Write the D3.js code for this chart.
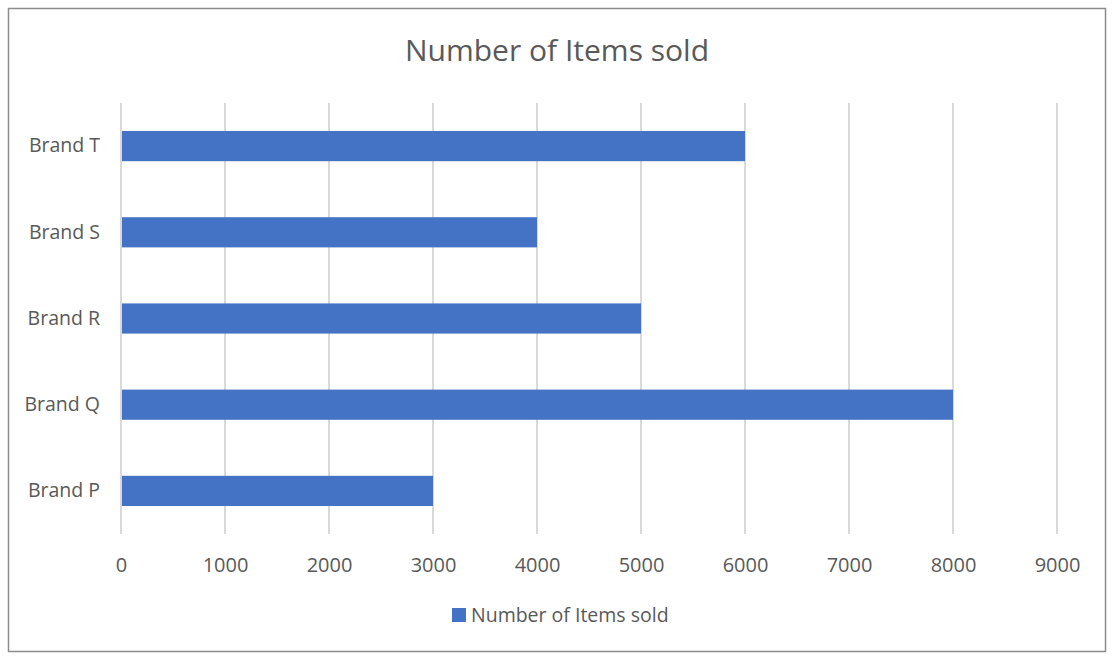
<!DOCTYPE html>
<html>
<head>
<meta charset="utf-8">
<script src="https://cdn.jsdelivr.net/npm/d3@7"></script>
<style>
  body { margin: 0; background: #fff; }
  text { font-family: "Open Sans", sans-serif; fill: #595959; }
</style>
</head>
<body>
<div id="chart"></div>
<script>
const brands = ["Brand P", "Brand Q", "Brand R", "Brand S", "Brand T"];
const itemsSold = [3000, 8000, 5000, 4000, 6000];
const xTicks = [0, 1000, 2000, 3000, 4000, 5000, 6000, 7000, 8000, 9000];
const seriesName = "Number of Items sold";

(function(){
    const fullWidth = 1118;
    const fullHeight = 666;
    const margin = { top: 103, left: 121, bottom: 132, right: 61 };
    const width = fullWidth - margin.left - margin.right;
    const height = fullHeight - margin.top - margin.bottom;

    const svg = d3.select("#chart")
        .append('svg')
            .attr('width', fullWidth)
            .attr('height', fullHeight);

    // outer frame
    svg.append('rect')
        .attr('x', 8.5).attr('y', 8.5)
        .attr('width', 1097).attr('height', 643)
        .style('fill', '#fff')
        .style('stroke', '#8c8c8c')
        .style('stroke-width', 1.5);

    svg.append('text')
        .attr('x', 557)
        .attr('y', 61)
        .attr('text-anchor', 'middle')
        .style('font-size', '30px')
        .text(seriesName);

    const g = svg.append('g')
        .attr('transform', `translate(${margin.left}, ${margin.top})`);

    const xScale = d3.scaleLinear()
        .domain([0, 9000])
        .range([0, width]);

    const yScale = d3.scaleBand()
        .domain(brands.slice().reverse())
        .range([0, height])
        .paddingInner(0.65)
        .paddingOuter(0.325);

    // gridlines
    g.selectAll('.grid')
        .data(xTicks)
        .enter().append('line')
            .attr('x1', d => xScale(d)).attr('x2', d => xScale(d))
            .attr('y1', 0).attr('y2', height)
            .style('stroke', '#d9d9d9')
            .style('stroke-width', 2);

    const xAxis = d3.axisBottom(xScale)
        .tickValues(xTicks)
        .tickFormat(d3.format('d'))
        .tickSize(0)
        .tickPadding(24);

    g.append('g')
            .attr('transform', `translate(0, ${height})`)
        .call(xAxis)
        .call(a => a.select('.domain').remove())
        .selectAll('text')
            .style('font-size', '20px')
            .style('fill', '#595959')
            .style('font-family', '"Open Sans", sans-serif');

    const yAxis = d3.axisLeft(yScale)
        .tickSize(0)
        .tickPadding(21);

    g.append('g')
        .call(yAxis)
        .call(a => a.select('.domain').remove())
        .selectAll('text')
            .style('font-size', '19.5px')
            .style('fill', '#595959')
            .style('font-family', '"Open Sans", sans-serif');

    g.selectAll('.bar')
        .data(brands)
        .enter().append('rect')
            .attr('x', xScale(0) + 1)
            .attr('y', d => yScale(d))
            .attr('width', (d, i) => xScale(itemsSold[i]) - xScale(0) - 1)
            .attr('height', yScale.bandwidth())
            .style('fill', '#4472c4');

    // legend
    const legend = svg.append('g')
        .attr('transform', 'translate(452, 608)');
    legend.append('rect')
        .attr('width', 14).attr('height', 14)
        .style('fill', '#4472c4');
    legend.append('text')
        .attr('x', 19).attr('y', 14)
        .style('font-size', '19.5px')
        .text(seriesName);
}())
</script>
</body>
</html>
